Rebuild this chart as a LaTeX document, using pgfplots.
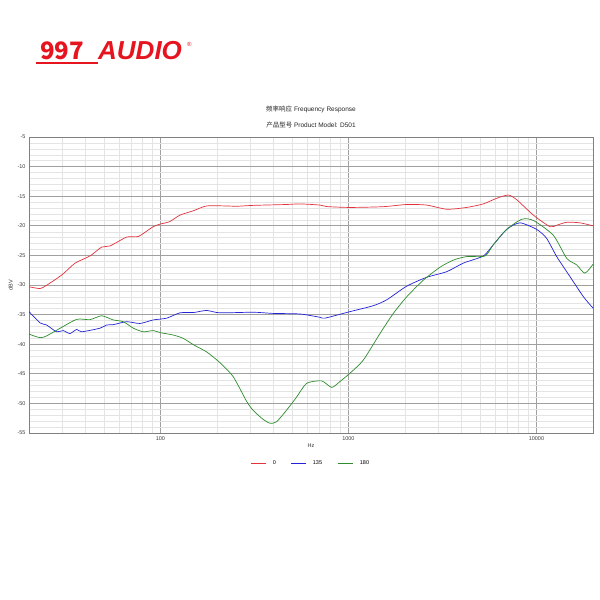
\documentclass[border=0pt]{standalone}
\usepackage{pgfplots}
\pgfplotsset{compat=1.18}
\usepackage{fontspec}
\setmainfont{Liberation Sans}
\newfontfamily\cjk{Noto Sans CJK SC}
\definecolor{cred}{RGB}{228,50,60}
\definecolor{cblue}{RGB}{35,35,215}
\definecolor{cgreen}{RGB}{45,140,45}
\definecolor{gmaj}{RGB}{160,160,160}
\definecolor{gmin}{RGB}{228,228,228}
\definecolor{logored}{RGB}{230,20,30}
\begin{document}
\begin{tikzpicture}
\path[fill=white] (0pt,0pt) rectangle (600pt,600pt);
% logo
\node[anchor=west,text=logored,font=\bfseries\itshape\fontsize{24}{24}\selectfont,inner sep=0] at (40pt,549pt) {\cjk 997}; 
\node[anchor=west,text=logored,font=\bfseries\itshape\fontsize{26}{26}\selectfont,inner sep=0] at (98pt,549pt) {AUDIO};
\node[anchor=west,text=logored,font=\fontsize{6}{6}\selectfont,inner sep=0] at (187pt,556pt) {\textregistered};
\draw[logored,line width=1.2pt] (36pt,537pt) -- (98pt,537pt);
% titles
\node[font=\fontsize{6.5}{7}\selectfont,text=black!85] at (311pt,491pt) {{\cjk 频率响应} Frequency Response};
\node[font=\fontsize{6.5}{7}\selectfont,text=black!85] at (311pt,475pt) {{\cjk 产品型号} Product Model: D501};
\begin{axis}[
  at={(29pt,167pt)}, anchor=south west,
  width=564pt, height=296pt, scale only axis,
  xmode=log, xmin=20, xmax=20000, ymin=-55, ymax=-5,
  log basis x=10,
  xtick={100,1000,10000}, xticklabels={100,1000,10000},
  minor xtick={20,30,40,50,60,70,80,90,200,300,400,500,600,700,800,900,2000,3000,4000,5000,6000,7000,8000,9000,20000},
  ytick={-55,-50,...,-5},
  minor y tick num=4,
  grid=both,
  major grid style={gmaj, line width=0.6pt},
  minor grid style={gmin, line width=0.4pt},
  axis line style={gmaj!80!black, line width=0.8pt},
  tick style={draw=none},
  ticklabel style={font=\fontsize{5.5}{6}\selectfont, text=black!75},
  /pgf/number format/assume math mode=true,
  xlabel={Hz}, ylabel={dBV},
  label style={font=\fontsize{5.5}{6}\selectfont, text=black!80},
  xlabel style={yshift=4pt},
  ylabel style={yshift=-2pt},
  legend style={at={(0.5,-0.08)}, anchor=north, draw=none, legend columns=3,
    font=\fontsize{5.5}{6}\selectfont, column sep=4pt},
  legend image code/.code={\draw[#1,line width=1pt] (0pt,0pt) -- (15pt,0pt);},
  legend cell align=left,
  every axis plot/.append style={line width=0.7pt},
]
\addplot[cred, smooth, tension=0.4] coordinates {
(20,-30.3)(22.9,-30.6)(24.8,-30.05)(29.9,-28.3)(35.2,-26.3)(42.2,-25.1)(48.7,-23.6)(54,-23.4)(66.2,-21.9)(76.3,-21.8)(91.6,-20.15)(100,-19.7)(112,-19.3)(127,-18.2)(150,-17.45)(176,-16.65)(225,-16.65)(255,-16.7)(312,-16.55)(470,-16.4)(553,-16.3)(706,-16.5)(767,-16.75)(1019,-16.9)(1533,-16.77)(2042,-16.4)(2608,-16.5)(3333,-17.2)(4257,-16.9)(5220,-16.3)(6150,-15.35)(7094,-14.8)(7860,-15.6)(9640,-18.2)(11800,-20.15)(12820,-19.9)(14500,-19.4)(17060,-19.5)(20000,-20.0)
};
\addlegendentry{\makebox[12pt][l]{0}}
\addplot[cblue, smooth, tension=0.4] coordinates {
(20,-34.5)(22.9,-36.4)(24.8,-36.75)(28,-37.9)(30.4,-37.7)(33,-38.2)(35.9,-37.5)(38.1,-37.9)(47.7,-37.3)(51.8,-36.75)(56.1,-36.7)(66.2,-36.2)(77.8,-36.5)(91.6,-35.9)(108,-35.6)(127,-34.7)(150,-34.65)(176,-34.3)(207,-34.7)(312,-34.6)(398,-34.8)(553,-34.9)(706,-35.45)(750,-35.6)(1019,-34.5)(1355,-33.5)(1599,-32.5)(2042,-30.2)(2608,-28.7)(3333,-27.75)(4087,-26.3)(5220,-25.1)(5900,-23.2)(6950,-20.6)(8170,-19.5)(10020,-20.6)(11320,-22.1)(12820,-25.2)(15100,-28.6)(17800,-32.0)(20000,-33.9)
};
\addlegendentry{\makebox[19pt][l]{135}}
\addplot[cgreen, smooth, tension=0.4] coordinates {
(20,-38.3)(22.9,-38.9)(24.8,-38.6)(29.3,-37.3)(35.9,-35.8)(42.2,-35.85)(48.7,-35.2)(56.1,-35.9)(63.5,-36.2)(71.8,-37.3)(81.1,-37.9)(91.6,-37.7)(100,-38.05)(117,-38.45)(132,-39.0)(150,-40.1)(176,-41.3)(207,-43.1)(244,-45.5)(288,-49.7)(312,-51.2)(352,-52.7)(383,-53.35)(415,-53.1)(470,-51.1)(531,-48.9)(600,-46.6)(721,-46.2)(815,-47.3)(902,-46.3)(1019,-44.9)(1199,-42.7)(1472,-38.2)(1733,-34.8)(2042,-32.0)(2500,-29.2)(3069,-27.0)(3612,-25.8)(4257,-25.2)(5325,-25.1)(5900,-23.2)(6950,-20.6)(8350,-18.9)(9640,-19.1)(12300,-21.6)(14500,-25.5)(16370,-26.6)(18100,-28.0)(20000,-26.5)
};
\addlegendentry{180}
\end{axis}
\end{tikzpicture}
\end{document}
